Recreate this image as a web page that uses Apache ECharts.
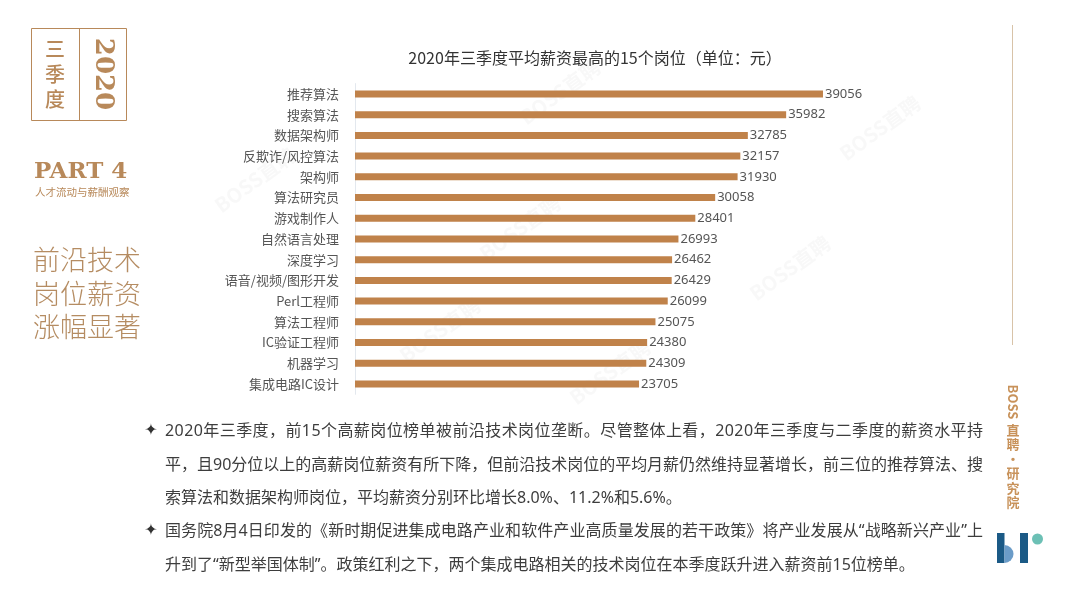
<!DOCTYPE html>
<html><head><meta charset="utf-8">
<script src="https://cdn.jsdelivr.net/npm/echarts@6/dist/echarts.min.js"></script>
<style>html,body{margin:0;padding:0;background:#fff}#c{width:1080px;height:608px}</style>
</head><body><div id="c"></div>
<script>
const categories = ['推荐算法','搜索算法','数据架构师','反欺诈/风控算法','架构师','算法研究员','游戏制作人','自然语言处理','深度学习','语音/视频/图形开发','Perl工程师','算法工程师','IC验证工程师','机器学习','集成电路IC设计'];
const salaries = [39056,35982,32785,32157,31930,30058,28401,26993,26462,26429,26099,25075,24380,24309,23705];
const titleText = '2020年三季度平均薪资最高的15个岗位（单位：元）';
const noteLines = [
  '2020年三季度，前15个高薪岗位榜单被前沿技术岗位垄断。尽管整体上看，2020年三季度与二季度的薪资水平持',
  '平，且90分位以上的高薪岗位薪资有所下降，但前沿技术岗位的平均月薪仍然维持显著增长，前三位的推荐算法、搜',
  '索算法和数据架构师岗位，平均薪资分别环比增长8.0%、11.2%和5.6%。',
  '国务院8月4日印发的《新时期促进集成电路产业和软件产业高质量发展的若干政策》将产业发展从“战略新兴产业”上',
  '升到了“新型举国体制”。政策红利之下，两个集成电路相关的技术岗位在本季度跃升进入薪资前15位榜单。'
];
const justified = [true, true, false, true, false];
const CJK = '"Noto Sans CJK SC", "Noto Sans", sans-serif';
const MIX = '"Noto Sans", "Noto Sans CJK SC", sans-serif';
const tan = '#b8895a';
const chart = echarts.init(document.getElementById('c'));
const g = [];
// left box
g.push({type:'rect', shape:{x:31.5,y:28.5,width:95,height:92}, style:{fill:'none',stroke:tan,lineWidth:1}});
g.push({type:'line', shape:{x1:79.5,y1:28.5,x2:79.5,y2:120.5}, style:{stroke:tan,lineWidth:1}});
['三','季','度'].forEach((c,i)=>g.push({type:'text', x:55, y:49+i*25, style:{text:c, font:'500 20px '+CJK, fill:tan, align:'center', verticalAlign:'middle'}}));
g.push({type:'text', x:103, y:74, rotation:-Math.PI/2, style:{text:'2020', font:'bold 26px "DejaVu Serif", serif', fill:tan, align:'center', verticalAlign:'middle'}});
g.push({type:'text', x:34, y:172, style:{text:'PART 4', font:'bold 23px "DejaVu Serif", serif', fill:tan, align:'left', verticalAlign:'middle'}});
g.push({type:'text', x:35, y:192, style:{text:'人才流动与薪酬观察', font:'10.5px '+CJK, fill:tan, align:'left', verticalAlign:'middle'}});
['前沿技术','岗位薪资','涨幅显著'].forEach((t,i)=>g.push({type:'text', x:33, y:260+i*33.5, style:{text:t, font:'300 27px '+CJK, fill:'#b58c62', align:'left', verticalAlign:'middle'}}));
// right decorations
g.push({type:'line', shape:{x1:1012.5,y1:25,x2:1012.5,y2:345}, style:{stroke:'#d8c3a8',lineWidth:1}});
g.push({type:'text', x:1013, y:402, rotation:-Math.PI/2, style:{text:'BOSS', font:'bold 13px '+CJK, fill:'#c8925a', align:'center', verticalAlign:'middle'}});
['直','聘','·','研','究','院'].forEach((c,i)=>g.push({type:'text', x:1013, y:430+i*14.5, style:{text:c, font:'bold 13px '+CJK, fill:'#c8925a', align:'center', verticalAlign:'middle'}}));
// logo
g.push({type:'rect', shape:{x:997,y:533,width:7.5,height:30}, style:{fill:'#1b5a86'}});
g.push({type:'sector', shape:{cx:1004.5,cy:554,r0:0,r:9,startAngle:-Math.PI/2,endAngle:Math.PI/2}, style:{fill:'#6b9cc8'}});
g.push({type:'rect', shape:{x:1020,y:533,width:8,height:30}, style:{fill:'#1b5a86'}});
g.push({type:'circle', shape:{cx:1037.5,cy:539,r:5.5}, style:{fill:'#6cc0b5'}});
// watermarks
[[255,180],[520,228],[790,268],[560,92],[880,128],[610,372],[440,330]].forEach(p=>g.push({type:'text', x:p[0], y:p[1], rotation:Math.PI/5, z:0, style:{text:'BOSS直聘', font:'bold 20px '+CJK, fill:'rgba(200,200,200,0.12)', align:'center', verticalAlign:'middle'}}));
// notes (justified)
const noteFont = '16px ' + MIX;
const ctx = document.createElement('canvas').getContext('2d');
ctx.font = noteFont;
const x0 = 165, x1 = 983;
noteLines.forEach((t,i)=>{
  const y = [431,465,498,531,565][i];
  if (!justified[i]) {
    g.push({type:'text', x:x0, y:y, style:{text:t, font:noteFont, fill:'#3d3d3d', align:'left', verticalAlign:'middle'}});
    return;
  }
  const chars = Array.from(t);
  const widths = chars.map(c=>ctx.measureText(c).width);
  const total = widths.reduce((a,b)=>a+b,0);
  const gap = (x1 - x0 - total) / (chars.length - 1);
  let x = x0;
  chars.forEach((c,k)=>{
    g.push({type:'text', x:x, y:y, style:{text:c, font:noteFont, fill:'#3d3d3d', align:'left', verticalAlign:'middle'}});
    x += widths[k] + gap;
  });
});
[431,531].forEach(y=>g.push({type:'text', x:151, y:y, style:{text:'✦', font:'16px "DejaVu Sans", sans-serif', fill:'#333', align:'center', verticalAlign:'middle'}}));

chart.setOption({
  backgroundColor:'#fff',
  animation:false,
  title:{text:titleText, left:590, top:45, textAlign:'center', textStyle:{fontFamily:CJK, fontSize:16, fontWeight:'normal', color:'#333'}},
  grid:{left:355, top:83.6, width:479.3, height:310.7, containLabel:false},
  xAxis:{type:'value', min:0, max:40000, show:false},
  yAxis:{type:'category', data:categories, inverse:true,
    axisLine:{show:true, lineStyle:{color:'#e3e8ee', width:1}}, axisTick:{show:false},
    axisLabel:{margin:16, fontFamily:CJK, fontSize:13, color:'#555'}},
  series:[{type:'bar', data:salaries, barWidth:7, itemStyle:{color:'#c0824a'},
    label:{show:true, position:'right', distance:2, fontFamily:'"Noto Sans", sans-serif', fontSize:13, color:'#555'}}],
  graphic:g
});
</script></body></html>
